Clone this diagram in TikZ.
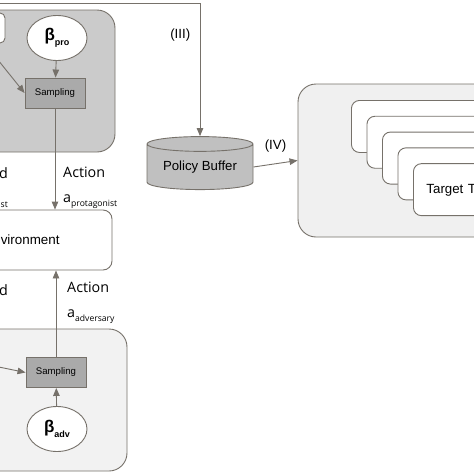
\documentclass[tikz,border=0pt]{standalone}
\usepackage{fontspec}
\setmainfont{Liberation Sans}
\newfontfamily\actfont{Open Sans}
\usepackage{tikz}
\usetikzlibrary{arrows.meta,positioning,shapes.geometric}
\definecolor{rledge}{RGB}{118,113,106}
\definecolor{rlpro}{RGB}{203,203,203}
\definecolor{rladv}{RGB}{242,242,242}
\definecolor{rlsamp}{RGB}{170,170,170}
\definecolor{rlbuf}{RGB}{192,192,192}
\definecolor{rltask}{RGB}{240,240,240}
\tikzset{
  rlbox/.style={
    draw=rledge, line width=0.9pt, align=center, inner sep=0pt
  },
  grp/.style={rlbox, rounded corners=18pt},
  envbox/.style={rlbox, fill=white, rounded corners=9pt, font=\fontsize{13.4}{15}\selectfont},
  samp/.style={rlbox, fill=rlsamp, minimum width=60pt, minimum height=30pt, font=\fontsize{9.6}{11}\selectfont},
  beta/.style={rlbox, ellipse, fill=white, minimum width=60pt, minimum height=45pt},
  buf/.style={rlbox, cylinder, shape border rotate=90, aspect=0.2, fill=rlbuf,
    minimum width=106pt, minimum height=53pt, font=\fontsize{13.2}{15}\selectfont},
  task/.style={rlbox, fill=white, rounded corners=8pt, anchor=north west,
    minimum width=200pt, minimum height=52pt},
  arr/.style={-{Triangle[length=8pt,width=6.5pt]}, draw=rledge, line width=0.9pt},
  lbl/.style={font=\fontsize{13.3}{15}\selectfont},
  act/.style={font=\actfont\fontsize{14.3}{25}\selectfont, align=left, anchor=north west, inner sep=0pt}
}
\newcommand{\betalbl}[1]{\textbf{\fontsize{17}{17}\selectfont β}\raisebox{-5pt}{\textbf{\fontsize{9}{9}\selectfont #1}}}
\newcommand{\actsub}[1]{a\raisebox{-4pt}{\fontsize{8.6}{9}\selectfont #1}}

\begin{document}
\begin{tikzpicture}[x=1pt,y=-1pt]
  \useasboundingbox (0,0) rectangle (474,474);
  \clip (0,0) rectangle (474,474);
  % protagonist side
  \node[grp, fill=rlpro, minimum width=155pt, minimum height=142pt] (proGrp) at (37.5,81) {};
  \node[rlbox, fill=white, rounded corners=5pt, minimum width=45pt, minimum height=30pt] (proIn) at (-17.5,28) {};
  \node[beta] (betaPro) at (57,38) {\betalbl{pro}};
  \node[samp] (sampPro) at (55,93) {Sampling};
  \coordinate (inPro) at (-6,55);
  % environment
  \node[envbox, minimum width=180pt, minimum height=60pt] (env) at (22,240) {Environment};
  % adversary side
  \node[grp, fill=rladv, minimum width=167pt, minimum height=142pt] (advGrp) at (43.5,400) {};
  \node[samp] (sampAdv) at (56,372.5) {Sampling};
  \node[beta] (betaAdv) at (57,429) {\betalbl{adv}};
  \coordinate (inAdv) at (-6,366);
  % labels
  \node[act] (actPro) at (63,167) {Action\\\actsub{protagonist}};
  \node[act] (actAdv) at (67,282) {Action\\\actsub{adversary}};
  \node[act, anchor=north east, align=right] (rwdPro) at (8,167) {Reward\\\actsub{protagonist}};
  \node[act, anchor=north east, align=right] (rwdAdv) at (8,284) {Reward};
  % buffer and target tasks
  \node[buf] (buffer) at (200,167) {Policy Buffer};
  \node[grp, fill=rltask, minimum width=230pt, minimum height=153pt] (taskGrp) at (413,160.5) {};
  \foreach \i in {0,...,3}
    \node[task] (task\i) at (351+15.5*\i,100+15.8*\i) {};
  \node[task, text width=180pt, align=left, inner xsep=13pt, font=\fontsize{13.3}{15}\selectfont] (task4) at (413,163.2) {\raisebox{-2pt}{Target Task}};
  % connectors
  \coordinate (fbk) at (-10,3);
  \draw[arr] (fbk) -| node[lbl, pos=0.62, left=6pt] {(III)} (buffer.north);
  \draw[arr] (betaPro) -- (sampPro);
  \draw[arr] (inPro) -- (sampPro.west);
  \draw[arr] (sampPro.south) -- (sampPro.south |- env.north);
  \draw[arr] (sampAdv.north) -- (sampAdv.north |- env.south);
  \draw[arr] (inAdv) -- (sampAdv.west);
  \draw[arr] (betaAdv) -- (sampAdv);
  \draw[arr] (buffer.east) -- node[lbl, above=8pt] {(IV)} (taskGrp.west);
\end{tikzpicture}
\end{document}
